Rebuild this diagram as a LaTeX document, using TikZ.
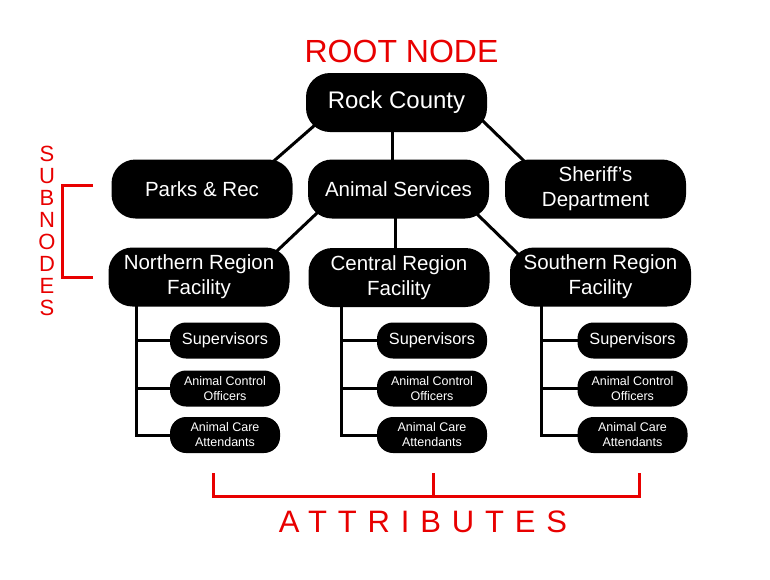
\documentclass[tikz,border=0pt]{standalone}
\usepackage{fontspec}
\setmainfont{Liberation Sans}
\usetikzlibrary{backgrounds,calc}
\definecolor{annred}{RGB}{232,0,0}
\tikzset{
  big/.style={fill=black,text=white,rounded corners=24pt,minimum width=181pt,minimum height=59pt,inner sep=0pt,align=center,font=\fontsize{20.5}{25}\selectfont},
  attr/.style={fill=black,text=white,rounded corners=16pt,minimum width=110pt,minimum height=36pt,inner sep=0pt,align=center,font=\fontsize{12.5}{15}\selectfont},
  conn/.style={line width=3pt,black},
  redline/.style={line width=3pt,annred},
  redtext/.style={text=annred,inner sep=0pt}
}
\begin{document}
\begin{tikzpicture}[x=1pt,y=-1pt]
\useasboundingbox (0,0) rectangle (770,579);
% main nodes
\node[big,font=\fontsize{24}{28}\selectfont] (rock) at (396.5,102.5) {Rock County};
\node[big] (parks) at (202,189) {Parks \& Rec};
\node[big] (animal) at (398.5,189) {Animal Services};
\node[big] (sheriff) at (595.5,189) {Sheriff's\\Department};
\node[big] (north) at (199,277) {Northern Region\\Facility};
\node[big] (central) at (399,277.5) {Central Region\\Facility};
\node[big] (south) at (600.5,277) {Southern Region\\Facility};
% attributes
\foreach \f/\x in {n/225,c/432,s/632.5}{
  \node[attr,font=\fontsize{16.3}{19}\selectfont] (\f1) at (\x,340.5) {Supervisors};
  \node[attr] (\f2) at (\x,388.5) {Animal Control\\Officers};
  \node[attr] (\f3) at (\x,435) {Animal Care\\Attendants};
}
% connectors
\begin{scope}[on background layer]
\draw[conn] ($(rock.center)+(-72.7,14.8)$) -- ($(parks.center)+(64.2,-21.3)$);
\draw[conn] ($(rock.center)+(77.5,9.8)$) -- ($(sheriff.center)+(-63.5,-20.3)$);
\draw[conn] ([xshift=-4pt]rock.center) -- ([xshift=-4pt]rock.center |- animal.center);
\draw[conn] ($(animal.center)+(-72.5,15.5)$) -- ($(north.center)+(70,-18.5)$);
\draw[conn] ($(animal.center)+(69.5,16.3)$) -- ($(south.center)+(-74.5,-15.3)$);
\draw[conn] ([xshift=-4pt]central.center) -- ([xshift=-4pt]central.center |- animal.center);
% trunks
\coordinate (tn) at ($(north.center)+(-63,0)$);
\coordinate (tc) at ($(central.center)+(-58,0)$);
\coordinate (ts) at ($(south.center)+(-59.5,0)$);
\foreach \f/\t in {n/tn,c/tc,s/ts}{
  \draw[conn] (\t) |- (\f3.center);
  \draw[conn] (\t |- \f1.center) -- (\f1.center);
  \draw[conn] (\t |- \f2.center) -- (\f2.center);
}
\end{scope}
% annotations
\node[redtext,anchor=base,font=\fontsize{32}{36}\selectfont] (rootlbl) at (401.5,62) {ROOT NODE};
\node[redtext,anchor=north,align=center,font=\fontsize{22}{22}\selectfont] (sublbl) at (47,146) {S\\U\\B\\N\\O\\D\\E\\S};
\draw[redline] (93,185) -- (62,185) -- (62,277) -- (93,277);
\draw[redline] (213,473) -- (213,496) -- (639,496) -- (639,473);
\draw[redline] (433,473) -- (433,496);
\node[redtext,anchor=base,font=\fontsize{31}{36}\selectfont\addfontfeature{LetterSpace=35}] (attrlbl) at (423,532) {ATTRIBUTES};
\end{tikzpicture}
\end{document}
